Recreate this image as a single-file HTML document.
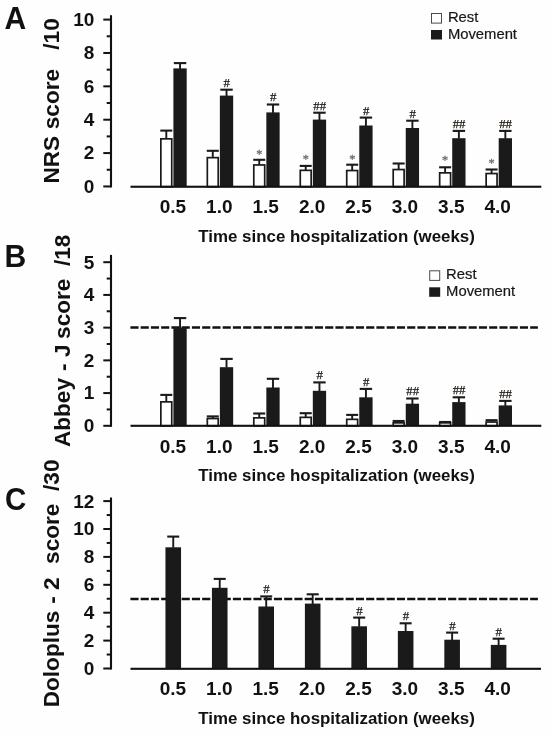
<!DOCTYPE html>
<html lang="en">
<head>
<meta charset="utf-8">
<title>Pain scores over time since hospitalization</title>
<style>
html,body{margin:0;padding:0;background:#fefefe;}
body{width:550px;height:736px;overflow:hidden;font-family:"Liberation Sans",Arial,sans-serif;}
svg{display:block;}
text{white-space:pre;}
</style>
</head>
<body>
<svg width="550" height="736" viewBox="0 0 550 736">
<rect x="0" y="0" width="550" height="736" fill="#fefefe"/>
<text transform="translate(4.50,29.30) scale(1.02,1.085)" font-family='"Liberation Sans", Arial, Helvetica, sans-serif' font-size="29.5" font-weight="bold" text-anchor="start" fill="#111">A</text>
<rect x="109.95" y="15.20" width="2.10" height="172.25" fill="#111"/>
<rect x="103.30" y="185.45" width="7.70" height="2.00" fill="#111"/>
<text transform="translate(94.40,192.85) scale(1.08,1.0)" font-family='"Liberation Sans", Arial, Helvetica, sans-serif' font-size="17.6" font-weight="bold" text-anchor="end" fill="#111">0</text>
<rect x="106.70" y="168.76" width="4.30" height="2.00" fill="#111"/>
<rect x="103.30" y="152.08" width="7.70" height="2.00" fill="#111"/>
<text transform="translate(94.40,159.48) scale(1.08,1.0)" font-family='"Liberation Sans", Arial, Helvetica, sans-serif' font-size="17.6" font-weight="bold" text-anchor="end" fill="#111">2</text>
<rect x="106.70" y="135.39" width="4.30" height="2.00" fill="#111"/>
<rect x="103.30" y="118.71" width="7.70" height="2.00" fill="#111"/>
<text transform="translate(94.40,126.11) scale(1.08,1.0)" font-family='"Liberation Sans", Arial, Helvetica, sans-serif' font-size="17.6" font-weight="bold" text-anchor="end" fill="#111">4</text>
<rect x="106.70" y="102.02" width="4.30" height="2.00" fill="#111"/>
<rect x="103.30" y="85.34" width="7.70" height="2.00" fill="#111"/>
<text transform="translate(94.40,92.74) scale(1.08,1.0)" font-family='"Liberation Sans", Arial, Helvetica, sans-serif' font-size="17.6" font-weight="bold" text-anchor="end" fill="#111">6</text>
<rect x="106.70" y="68.66" width="4.30" height="2.00" fill="#111"/>
<rect x="103.30" y="51.97" width="7.70" height="2.00" fill="#111"/>
<text transform="translate(94.40,59.37) scale(1.08,1.0)" font-family='"Liberation Sans", Arial, Helvetica, sans-serif' font-size="17.6" font-weight="bold" text-anchor="end" fill="#111">8</text>
<rect x="106.70" y="35.28" width="4.30" height="2.00" fill="#111"/>
<rect x="103.30" y="18.60" width="7.70" height="2.00" fill="#111"/>
<text transform="translate(94.40,26.00) scale(1.08,1.0)" font-family='"Liberation Sans", Arial, Helvetica, sans-serif' font-size="17.6" font-weight="bold" text-anchor="end" fill="#111">10</text>
<text transform="translate(59.40,183.56) rotate(-90)" font-family='"Liberation Sans", Arial, Helvetica, sans-serif' font-size="22.6" font-weight="bold" text-anchor="start" fill="#111">NRS</text>
<text transform="translate(59.40,129.21) rotate(-90)" font-family='"Liberation Sans", Arial, Helvetica, sans-serif' font-size="22.6" font-weight="bold" text-anchor="start" fill="#111">score</text>
<text transform="translate(59.40,49.66) rotate(-90)" font-family='"Liberation Sans", Arial, Helvetica, sans-serif' font-size="22.6" font-weight="bold" text-anchor="start" fill="#111">/10</text>
<rect x="165.35" y="130.60" width="1.90" height="7.90" fill="#1a1a1a"/>
<rect x="160.30" y="129.55" width="12.00" height="2.10" fill="#1a1a1a"/>
<rect x="160.85" y="138.85" width="10.90" height="47.90" fill="#fff" stroke="#1a1a1a" stroke-width="1.7"/>
<rect x="179.10" y="63.10" width="1.90" height="5.80" fill="#1a1a1a"/>
<rect x="173.85" y="62.05" width="12.40" height="2.10" fill="#1a1a1a"/>
<rect x="173.40" y="68.40" width="13.30" height="118.35" fill="#1a1a1a"/>
<rect x="211.82" y="150.80" width="1.90" height="6.50" fill="#1a1a1a"/>
<rect x="206.77" y="149.75" width="12.00" height="2.10" fill="#1a1a1a"/>
<rect x="207.32" y="157.65" width="10.90" height="29.10" fill="#fff" stroke="#1a1a1a" stroke-width="1.7"/>
<rect x="225.57" y="89.70" width="1.90" height="6.40" fill="#1a1a1a"/>
<rect x="220.32" y="88.65" width="12.40" height="2.10" fill="#1a1a1a"/>
<rect x="219.87" y="95.60" width="13.30" height="91.15" fill="#1a1a1a"/>
<rect x="258.29" y="159.80" width="1.90" height="4.80" fill="#1a1a1a"/>
<rect x="253.24" y="158.75" width="12.00" height="2.10" fill="#1a1a1a"/>
<rect x="253.79" y="164.95" width="10.90" height="21.80" fill="#fff" stroke="#1a1a1a" stroke-width="1.7"/>
<rect x="272.04" y="104.50" width="1.90" height="8.40" fill="#1a1a1a"/>
<rect x="266.79" y="103.45" width="12.40" height="2.10" fill="#1a1a1a"/>
<rect x="266.34" y="112.40" width="13.30" height="74.35" fill="#1a1a1a"/>
<rect x="304.76" y="165.90" width="1.90" height="4.10" fill="#1a1a1a"/>
<rect x="299.71" y="164.85" width="12.00" height="2.10" fill="#1a1a1a"/>
<rect x="300.26" y="170.35" width="10.90" height="16.40" fill="#fff" stroke="#1a1a1a" stroke-width="1.7"/>
<rect x="318.51" y="112.70" width="1.90" height="7.40" fill="#1a1a1a"/>
<rect x="313.26" y="111.65" width="12.40" height="2.10" fill="#1a1a1a"/>
<rect x="312.81" y="119.60" width="13.30" height="67.15" fill="#1a1a1a"/>
<rect x="351.23" y="164.70" width="1.90" height="5.50" fill="#1a1a1a"/>
<rect x="346.18" y="163.65" width="12.00" height="2.10" fill="#1a1a1a"/>
<rect x="346.73" y="170.55" width="10.90" height="16.20" fill="#fff" stroke="#1a1a1a" stroke-width="1.7"/>
<rect x="364.98" y="117.60" width="1.90" height="8.40" fill="#1a1a1a"/>
<rect x="359.73" y="116.55" width="12.40" height="2.10" fill="#1a1a1a"/>
<rect x="359.28" y="125.50" width="13.30" height="61.25" fill="#1a1a1a"/>
<rect x="397.70" y="163.50" width="1.90" height="5.70" fill="#1a1a1a"/>
<rect x="392.65" y="162.45" width="12.00" height="2.10" fill="#1a1a1a"/>
<rect x="393.20" y="169.55" width="10.90" height="17.20" fill="#fff" stroke="#1a1a1a" stroke-width="1.7"/>
<rect x="411.45" y="120.70" width="1.90" height="7.80" fill="#1a1a1a"/>
<rect x="406.20" y="119.65" width="12.40" height="2.10" fill="#1a1a1a"/>
<rect x="405.75" y="128.00" width="13.30" height="58.75" fill="#1a1a1a"/>
<rect x="444.17" y="167.30" width="1.90" height="5.20" fill="#1a1a1a"/>
<rect x="439.12" y="166.25" width="12.00" height="2.10" fill="#1a1a1a"/>
<rect x="439.67" y="172.85" width="10.90" height="13.90" fill="#fff" stroke="#1a1a1a" stroke-width="1.7"/>
<rect x="457.92" y="130.90" width="1.90" height="7.80" fill="#1a1a1a"/>
<rect x="452.67" y="129.85" width="12.40" height="2.10" fill="#1a1a1a"/>
<rect x="452.22" y="138.20" width="13.30" height="48.55" fill="#1a1a1a"/>
<rect x="490.64" y="169.50" width="1.90" height="3.70" fill="#1a1a1a"/>
<rect x="485.59" y="168.45" width="12.00" height="2.10" fill="#1a1a1a"/>
<rect x="486.14" y="173.55" width="10.90" height="13.20" fill="#fff" stroke="#1a1a1a" stroke-width="1.7"/>
<rect x="504.39" y="130.90" width="1.90" height="7.80" fill="#1a1a1a"/>
<rect x="499.14" y="129.85" width="12.40" height="2.10" fill="#1a1a1a"/>
<rect x="498.69" y="138.20" width="13.30" height="48.55" fill="#1a1a1a"/>
<rect x="130.50" y="185.70" width="410.80" height="2.10" fill="#111"/>
<text transform="translate(172.90,213.35) scale(1.08,1.0)" font-family='"Liberation Sans", Arial, Helvetica, sans-serif' font-size="17.6" font-weight="bold" text-anchor="middle" fill="#111">0.5</text>
<text transform="translate(219.30,213.35) scale(1.08,1.0)" font-family='"Liberation Sans", Arial, Helvetica, sans-serif' font-size="17.6" font-weight="bold" text-anchor="middle" fill="#111">1.0</text>
<text transform="translate(265.70,213.35) scale(1.08,1.0)" font-family='"Liberation Sans", Arial, Helvetica, sans-serif' font-size="17.6" font-weight="bold" text-anchor="middle" fill="#111">1.5</text>
<text transform="translate(312.10,213.35) scale(1.08,1.0)" font-family='"Liberation Sans", Arial, Helvetica, sans-serif' font-size="17.6" font-weight="bold" text-anchor="middle" fill="#111">2.0</text>
<text transform="translate(358.50,213.35) scale(1.08,1.0)" font-family='"Liberation Sans", Arial, Helvetica, sans-serif' font-size="17.6" font-weight="bold" text-anchor="middle" fill="#111">2.5</text>
<text transform="translate(404.90,213.35) scale(1.08,1.0)" font-family='"Liberation Sans", Arial, Helvetica, sans-serif' font-size="17.6" font-weight="bold" text-anchor="middle" fill="#111">3.0</text>
<text transform="translate(451.30,213.35) scale(1.08,1.0)" font-family='"Liberation Sans", Arial, Helvetica, sans-serif' font-size="17.6" font-weight="bold" text-anchor="middle" fill="#111">3.5</text>
<text transform="translate(497.70,213.35) scale(1.08,1.0)" font-family='"Liberation Sans", Arial, Helvetica, sans-serif' font-size="17.6" font-weight="bold" text-anchor="middle" fill="#111">4.0</text>
<text x="336.60" y="241.95" font-family='"Liberation Sans", Arial, Helvetica, sans-serif' font-size="16.9" font-weight="bold" text-anchor="middle" fill="#111">Time since hospitalization (weeks)</text>
<rect x="431.50" y="13.50" width="10" height="9.6" fill="#fff" stroke="#4a4a4a" stroke-width="1"/>
<rect x="431.00" y="30.00" width="11.00" height="9.50" fill="#1a1a1a"/>
<text x="447.90" y="22.10" font-family='"Liberation Sans", Arial, Helvetica, sans-serif' font-size="14.8" font-weight="normal" text-anchor="start" fill="#161616" stroke="#161616" stroke-width="0.2">Rest</text>
<text x="447.90" y="39.10" font-family='"Liberation Sans", Arial, Helvetica, sans-serif' font-size="14.8" font-weight="normal" text-anchor="start" fill="#161616" stroke="#161616" stroke-width="0.2">Movement</text>
<text x="226.77" y="86.60" font-family='"Liberation Serif", "Times New Roman", serif' font-size="12.8" font-weight="normal" text-anchor="middle" fill="#1e1812" stroke="#1e1812" stroke-width="0.25">#</text>
<text x="273.24" y="101.40" font-family='"Liberation Serif", "Times New Roman", serif' font-size="12.8" font-weight="normal" text-anchor="middle" fill="#1e1812" stroke="#1e1812" stroke-width="0.25">#</text>
<text x="319.71" y="109.60" font-family='"Liberation Serif", "Times New Roman", serif' font-size="12.8" font-weight="normal" text-anchor="middle" fill="#1e1812" stroke="#1e1812" stroke-width="0.25">##</text>
<text x="366.18" y="114.50" font-family='"Liberation Serif", "Times New Roman", serif' font-size="12.8" font-weight="normal" text-anchor="middle" fill="#1e1812" stroke="#1e1812" stroke-width="0.25">#</text>
<text x="412.65" y="117.60" font-family='"Liberation Serif", "Times New Roman", serif' font-size="12.8" font-weight="normal" text-anchor="middle" fill="#1e1812" stroke="#1e1812" stroke-width="0.25">#</text>
<text x="459.12" y="127.80" font-family='"Liberation Serif", "Times New Roman", serif' font-size="12.8" font-weight="normal" text-anchor="middle" fill="#1e1812" stroke="#1e1812" stroke-width="0.25">##</text>
<text x="505.59" y="127.80" font-family='"Liberation Serif", "Times New Roman", serif' font-size="12.8" font-weight="normal" text-anchor="middle" fill="#1e1812" stroke="#1e1812" stroke-width="0.25">##</text>
<text x="259.24" y="158.20" font-family='"Liberation Serif", "Times New Roman", serif' font-size="12.2" font-weight="normal" text-anchor="middle" fill="#756c64" stroke="#756c64" stroke-width="0.35">*</text>
<text x="305.71" y="162.90" font-family='"Liberation Serif", "Times New Roman", serif' font-size="12.2" font-weight="normal" text-anchor="middle" fill="#756c64" stroke="#756c64" stroke-width="0.35">*</text>
<text x="352.18" y="162.90" font-family='"Liberation Serif", "Times New Roman", serif' font-size="12.2" font-weight="normal" text-anchor="middle" fill="#756c64" stroke="#756c64" stroke-width="0.35">*</text>
<text x="445.12" y="164.40" font-family='"Liberation Serif", "Times New Roman", serif' font-size="12.2" font-weight="normal" text-anchor="middle" fill="#756c64" stroke="#756c64" stroke-width="0.35">*</text>
<text x="491.59" y="167.20" font-family='"Liberation Serif", "Times New Roman", serif' font-size="12.2" font-weight="normal" text-anchor="middle" fill="#756c64" stroke="#756c64" stroke-width="0.35">*</text>
<text transform="translate(4.50,267.40) scale(1.02,1.085)" font-family='"Liberation Sans", Arial, Helvetica, sans-serif' font-size="29.5" font-weight="bold" text-anchor="start" fill="#111">B</text>
<rect x="109.95" y="254.90" width="2.10" height="171.90" fill="#111"/>
<rect x="103.30" y="424.80" width="7.70" height="2.00" fill="#111"/>
<text transform="translate(94.40,432.20) scale(1.08,1.0)" font-family='"Liberation Sans", Arial, Helvetica, sans-serif' font-size="17.6" font-weight="bold" text-anchor="end" fill="#111">0</text>
<rect x="106.70" y="408.44" width="4.30" height="2.00" fill="#111"/>
<rect x="103.30" y="392.08" width="7.70" height="2.00" fill="#111"/>
<text transform="translate(94.40,399.48) scale(1.08,1.0)" font-family='"Liberation Sans", Arial, Helvetica, sans-serif' font-size="17.6" font-weight="bold" text-anchor="end" fill="#111">1</text>
<rect x="106.70" y="375.72" width="4.30" height="2.00" fill="#111"/>
<rect x="103.30" y="359.36" width="7.70" height="2.00" fill="#111"/>
<text transform="translate(94.40,366.76) scale(1.08,1.0)" font-family='"Liberation Sans", Arial, Helvetica, sans-serif' font-size="17.6" font-weight="bold" text-anchor="end" fill="#111">2</text>
<rect x="106.70" y="343.00" width="4.30" height="2.00" fill="#111"/>
<rect x="103.30" y="326.64" width="7.70" height="2.00" fill="#111"/>
<text transform="translate(94.40,334.04) scale(1.08,1.0)" font-family='"Liberation Sans", Arial, Helvetica, sans-serif' font-size="17.6" font-weight="bold" text-anchor="end" fill="#111">3</text>
<rect x="106.70" y="310.28" width="4.30" height="2.00" fill="#111"/>
<rect x="103.30" y="293.92" width="7.70" height="2.00" fill="#111"/>
<text transform="translate(94.40,301.32) scale(1.08,1.0)" font-family='"Liberation Sans", Arial, Helvetica, sans-serif' font-size="17.6" font-weight="bold" text-anchor="end" fill="#111">4</text>
<rect x="106.70" y="277.56" width="4.30" height="2.00" fill="#111"/>
<rect x="103.30" y="261.20" width="7.70" height="2.00" fill="#111"/>
<text transform="translate(94.40,268.60) scale(1.08,1.0)" font-family='"Liberation Sans", Arial, Helvetica, sans-serif' font-size="17.6" font-weight="bold" text-anchor="end" fill="#111">5</text>
<text transform="translate(70.00,447.05) rotate(-90)" font-family='"Liberation Sans", Arial, Helvetica, sans-serif' font-size="22.6" font-weight="bold" text-anchor="start" fill="#111">Abbey</text>
<text transform="translate(70.00,370.95) rotate(-90)" font-family='"Liberation Sans", Arial, Helvetica, sans-serif' font-size="22.6" font-weight="bold" text-anchor="start" fill="#111">-</text>
<text transform="translate(70.00,356.98) rotate(-90)" font-family='"Liberation Sans", Arial, Helvetica, sans-serif' font-size="22.6" font-weight="bold" text-anchor="start" fill="#111">J</text>
<text transform="translate(70.00,338.91) rotate(-90)" font-family='"Liberation Sans", Arial, Helvetica, sans-serif' font-size="22.6" font-weight="bold" text-anchor="start" fill="#111">score</text>
<text transform="translate(70.00,265.97) rotate(-90)" font-family='"Liberation Sans", Arial, Helvetica, sans-serif' font-size="22.6" font-weight="bold" text-anchor="start" fill="#111">/18</text>
<line x1="130.4" y1="327.5" x2="537.9" y2="327.5" stroke="#111" stroke-width="2.5" stroke-dasharray="8.15 2.1"/>
<rect x="165.35" y="394.90" width="1.90" height="6.60" fill="#1a1a1a"/>
<rect x="160.30" y="393.85" width="12.00" height="2.10" fill="#1a1a1a"/>
<rect x="160.85" y="401.85" width="10.90" height="23.95" fill="#fff" stroke="#1a1a1a" stroke-width="1.7"/>
<rect x="179.10" y="318.10" width="1.90" height="9.90" fill="#1a1a1a"/>
<rect x="173.85" y="317.05" width="12.40" height="2.10" fill="#1a1a1a"/>
<rect x="173.40" y="327.50" width="13.30" height="98.30" fill="#1a1a1a"/>
<rect x="211.82" y="416.40" width="1.90" height="1.80" fill="#1a1a1a"/>
<rect x="206.77" y="415.35" width="12.00" height="2.10" fill="#1a1a1a"/>
<rect x="207.32" y="418.55" width="10.90" height="7.25" fill="#fff" stroke="#1a1a1a" stroke-width="1.7"/>
<rect x="225.57" y="358.90" width="1.90" height="8.80" fill="#1a1a1a"/>
<rect x="220.32" y="357.85" width="12.40" height="2.10" fill="#1a1a1a"/>
<rect x="219.87" y="367.20" width="13.30" height="58.60" fill="#1a1a1a"/>
<rect x="258.29" y="413.50" width="1.90" height="4.00" fill="#1a1a1a"/>
<rect x="253.24" y="412.45" width="12.00" height="2.10" fill="#1a1a1a"/>
<rect x="253.79" y="417.85" width="10.90" height="7.95" fill="#fff" stroke="#1a1a1a" stroke-width="1.7"/>
<rect x="272.04" y="378.80" width="1.90" height="9.20" fill="#1a1a1a"/>
<rect x="266.79" y="377.75" width="12.40" height="2.10" fill="#1a1a1a"/>
<rect x="266.34" y="387.50" width="13.30" height="38.30" fill="#1a1a1a"/>
<rect x="304.76" y="413.20" width="1.90" height="3.80" fill="#1a1a1a"/>
<rect x="299.71" y="412.15" width="12.00" height="2.10" fill="#1a1a1a"/>
<rect x="300.26" y="417.35" width="10.90" height="8.45" fill="#fff" stroke="#1a1a1a" stroke-width="1.7"/>
<rect x="318.51" y="382.40" width="1.90" height="8.90" fill="#1a1a1a"/>
<rect x="313.26" y="381.35" width="12.40" height="2.10" fill="#1a1a1a"/>
<rect x="312.81" y="390.80" width="13.30" height="35.00" fill="#1a1a1a"/>
<rect x="351.23" y="414.90" width="1.90" height="4.10" fill="#1a1a1a"/>
<rect x="346.18" y="413.85" width="12.00" height="2.10" fill="#1a1a1a"/>
<rect x="346.73" y="419.35" width="10.90" height="6.45" fill="#fff" stroke="#1a1a1a" stroke-width="1.7"/>
<rect x="364.98" y="388.90" width="1.90" height="8.90" fill="#1a1a1a"/>
<rect x="359.73" y="387.85" width="12.40" height="2.10" fill="#1a1a1a"/>
<rect x="359.28" y="397.30" width="13.30" height="28.50" fill="#1a1a1a"/>
<rect x="397.70" y="421.00" width="1.90" height="1.50" fill="#1a1a1a"/>
<rect x="392.65" y="419.95" width="12.00" height="2.10" fill="#1a1a1a"/>
<rect x="393.20" y="422.85" width="10.90" height="2.95" fill="#fff" stroke="#1a1a1a" stroke-width="1.7"/>
<rect x="411.45" y="398.50" width="1.90" height="5.70" fill="#1a1a1a"/>
<rect x="406.20" y="397.45" width="12.40" height="2.10" fill="#1a1a1a"/>
<rect x="405.75" y="403.70" width="13.30" height="22.10" fill="#1a1a1a"/>
<rect x="444.17" y="422.00" width="1.90" height="0.50" fill="#1a1a1a"/>
<rect x="439.12" y="420.95" width="12.00" height="2.10" fill="#1a1a1a"/>
<rect x="439.67" y="422.85" width="10.90" height="2.95" fill="#fff" stroke="#1a1a1a" stroke-width="1.7"/>
<rect x="457.92" y="397.30" width="1.90" height="5.30" fill="#1a1a1a"/>
<rect x="452.67" y="396.25" width="12.40" height="2.10" fill="#1a1a1a"/>
<rect x="452.22" y="402.10" width="13.30" height="23.70" fill="#1a1a1a"/>
<rect x="490.64" y="420.20" width="1.90" height="1.50" fill="#1a1a1a"/>
<rect x="485.59" y="419.15" width="12.00" height="2.10" fill="#1a1a1a"/>
<rect x="486.14" y="422.05" width="10.90" height="3.75" fill="#fff" stroke="#1a1a1a" stroke-width="1.7"/>
<rect x="504.39" y="400.90" width="1.90" height="5.00" fill="#1a1a1a"/>
<rect x="499.14" y="399.85" width="12.40" height="2.10" fill="#1a1a1a"/>
<rect x="498.69" y="405.40" width="13.30" height="20.40" fill="#1a1a1a"/>
<rect x="130.50" y="424.75" width="410.80" height="2.10" fill="#111"/>
<text transform="translate(172.90,452.50) scale(1.08,1.0)" font-family='"Liberation Sans", Arial, Helvetica, sans-serif' font-size="17.6" font-weight="bold" text-anchor="middle" fill="#111">0.5</text>
<text transform="translate(219.30,452.50) scale(1.08,1.0)" font-family='"Liberation Sans", Arial, Helvetica, sans-serif' font-size="17.6" font-weight="bold" text-anchor="middle" fill="#111">1.0</text>
<text transform="translate(265.70,452.50) scale(1.08,1.0)" font-family='"Liberation Sans", Arial, Helvetica, sans-serif' font-size="17.6" font-weight="bold" text-anchor="middle" fill="#111">1.5</text>
<text transform="translate(312.10,452.50) scale(1.08,1.0)" font-family='"Liberation Sans", Arial, Helvetica, sans-serif' font-size="17.6" font-weight="bold" text-anchor="middle" fill="#111">2.0</text>
<text transform="translate(358.50,452.50) scale(1.08,1.0)" font-family='"Liberation Sans", Arial, Helvetica, sans-serif' font-size="17.6" font-weight="bold" text-anchor="middle" fill="#111">2.5</text>
<text transform="translate(404.90,452.50) scale(1.08,1.0)" font-family='"Liberation Sans", Arial, Helvetica, sans-serif' font-size="17.6" font-weight="bold" text-anchor="middle" fill="#111">3.0</text>
<text transform="translate(451.30,452.50) scale(1.08,1.0)" font-family='"Liberation Sans", Arial, Helvetica, sans-serif' font-size="17.6" font-weight="bold" text-anchor="middle" fill="#111">3.5</text>
<text transform="translate(497.70,452.50) scale(1.08,1.0)" font-family='"Liberation Sans", Arial, Helvetica, sans-serif' font-size="17.6" font-weight="bold" text-anchor="middle" fill="#111">4.0</text>
<text x="336.60" y="481.10" font-family='"Liberation Sans", Arial, Helvetica, sans-serif' font-size="16.9" font-weight="bold" text-anchor="middle" fill="#111">Time since hospitalization (weeks)</text>
<rect x="429.70" y="270.80" width="10" height="9.6" fill="#fff" stroke="#4a4a4a" stroke-width="1"/>
<rect x="429.20" y="287.30" width="11.00" height="9.50" fill="#1a1a1a"/>
<text x="446.10" y="279.40" font-family='"Liberation Sans", Arial, Helvetica, sans-serif' font-size="14.8" font-weight="normal" text-anchor="start" fill="#161616" stroke="#161616" stroke-width="0.2">Rest</text>
<text x="446.10" y="296.40" font-family='"Liberation Sans", Arial, Helvetica, sans-serif' font-size="14.8" font-weight="normal" text-anchor="start" fill="#161616" stroke="#161616" stroke-width="0.2">Movement</text>
<text x="319.71" y="379.30" font-family='"Liberation Serif", "Times New Roman", serif' font-size="12.8" font-weight="normal" text-anchor="middle" fill="#1e1812" stroke="#1e1812" stroke-width="0.25">#</text>
<text x="366.18" y="385.80" font-family='"Liberation Serif", "Times New Roman", serif' font-size="12.8" font-weight="normal" text-anchor="middle" fill="#1e1812" stroke="#1e1812" stroke-width="0.25">#</text>
<text x="412.65" y="395.40" font-family='"Liberation Serif", "Times New Roman", serif' font-size="12.8" font-weight="normal" text-anchor="middle" fill="#1e1812" stroke="#1e1812" stroke-width="0.25">##</text>
<text x="459.12" y="394.20" font-family='"Liberation Serif", "Times New Roman", serif' font-size="12.8" font-weight="normal" text-anchor="middle" fill="#1e1812" stroke="#1e1812" stroke-width="0.25">##</text>
<text x="505.59" y="397.80" font-family='"Liberation Serif", "Times New Roman", serif' font-size="12.8" font-weight="normal" text-anchor="middle" fill="#1e1812" stroke="#1e1812" stroke-width="0.25">##</text>
<text transform="translate(4.90,509.90) scale(1.0,1.085)" font-family='"Liberation Sans", Arial, Helvetica, sans-serif' font-size="29.5" font-weight="bold" text-anchor="start" fill="#111">C</text>
<rect x="109.95" y="497.50" width="2.10" height="172.00" fill="#111"/>
<rect x="103.30" y="667.50" width="7.70" height="2.00" fill="#111"/>
<text transform="translate(94.40,674.90) scale(1.08,1.0)" font-family='"Liberation Sans", Arial, Helvetica, sans-serif' font-size="17.6" font-weight="bold" text-anchor="end" fill="#111">0</text>
<rect x="106.70" y="653.55" width="4.30" height="2.00" fill="#111"/>
<rect x="103.30" y="639.60" width="7.70" height="2.00" fill="#111"/>
<text transform="translate(94.40,647.00) scale(1.08,1.0)" font-family='"Liberation Sans", Arial, Helvetica, sans-serif' font-size="17.6" font-weight="bold" text-anchor="end" fill="#111">2</text>
<rect x="106.70" y="625.65" width="4.30" height="2.00" fill="#111"/>
<rect x="103.30" y="611.70" width="7.70" height="2.00" fill="#111"/>
<text transform="translate(94.40,619.10) scale(1.08,1.0)" font-family='"Liberation Sans", Arial, Helvetica, sans-serif' font-size="17.6" font-weight="bold" text-anchor="end" fill="#111">4</text>
<rect x="106.70" y="597.75" width="4.30" height="2.00" fill="#111"/>
<rect x="103.30" y="583.80" width="7.70" height="2.00" fill="#111"/>
<text transform="translate(94.40,591.20) scale(1.08,1.0)" font-family='"Liberation Sans", Arial, Helvetica, sans-serif' font-size="17.6" font-weight="bold" text-anchor="end" fill="#111">6</text>
<rect x="106.70" y="569.85" width="4.30" height="2.00" fill="#111"/>
<rect x="103.30" y="555.90" width="7.70" height="2.00" fill="#111"/>
<text transform="translate(94.40,563.30) scale(1.08,1.0)" font-family='"Liberation Sans", Arial, Helvetica, sans-serif' font-size="17.6" font-weight="bold" text-anchor="end" fill="#111">8</text>
<rect x="106.70" y="541.95" width="4.30" height="2.00" fill="#111"/>
<rect x="103.30" y="528.00" width="7.70" height="2.00" fill="#111"/>
<text transform="translate(94.40,535.40) scale(1.08,1.0)" font-family='"Liberation Sans", Arial, Helvetica, sans-serif' font-size="17.6" font-weight="bold" text-anchor="end" fill="#111">10</text>
<rect x="106.70" y="514.05" width="4.30" height="2.00" fill="#111"/>
<rect x="103.30" y="500.10" width="7.70" height="2.00" fill="#111"/>
<text transform="translate(94.40,507.50) scale(1.08,1.0)" font-family='"Liberation Sans", Arial, Helvetica, sans-serif' font-size="17.6" font-weight="bold" text-anchor="end" fill="#111">12</text>
<text transform="translate(59.40,707.32) rotate(-90)" font-family='"Liberation Sans", Arial, Helvetica, sans-serif' font-size="22.6" font-weight="bold" text-anchor="start" fill="#111">Doloplus</text>
<text transform="translate(59.40,603.70) rotate(-90)" font-family='"Liberation Sans", Arial, Helvetica, sans-serif' font-size="22.6" font-weight="bold" text-anchor="start" fill="#111">-</text>
<text transform="translate(59.40,590.03) rotate(-90)" font-family='"Liberation Sans", Arial, Helvetica, sans-serif' font-size="22.6" font-weight="bold" text-anchor="start" fill="#111">2</text>
<text transform="translate(59.40,563.91) rotate(-90)" font-family='"Liberation Sans", Arial, Helvetica, sans-serif' font-size="22.6" font-weight="bold" text-anchor="start" fill="#111">score</text>
<text transform="translate(59.40,490.96) rotate(-90)" font-family='"Liberation Sans", Arial, Helvetica, sans-serif' font-size="22.6" font-weight="bold" text-anchor="start" fill="#111">/30</text>
<line x1="130.4" y1="599.1" x2="537.9" y2="599.1" stroke="#111" stroke-width="2.5" stroke-dasharray="8.15 2.1"/>
<rect x="172.30" y="536.60" width="1.90" height="11.20" fill="#1a1a1a"/>
<rect x="167.25" y="535.55" width="12.00" height="2.10" fill="#1a1a1a"/>
<rect x="165.45" y="547.30" width="15.60" height="121.50" fill="#1a1a1a"/>
<rect x="218.78" y="578.90" width="1.90" height="9.40" fill="#1a1a1a"/>
<rect x="213.73" y="577.85" width="12.00" height="2.10" fill="#1a1a1a"/>
<rect x="211.93" y="587.80" width="15.60" height="81.00" fill="#1a1a1a"/>
<rect x="265.26" y="596.40" width="1.90" height="10.60" fill="#1a1a1a"/>
<rect x="260.21" y="595.35" width="12.00" height="2.10" fill="#1a1a1a"/>
<rect x="258.41" y="606.50" width="15.60" height="62.30" fill="#1a1a1a"/>
<rect x="311.74" y="594.30" width="1.90" height="9.80" fill="#1a1a1a"/>
<rect x="306.69" y="593.25" width="12.00" height="2.10" fill="#1a1a1a"/>
<rect x="304.89" y="603.60" width="15.60" height="65.20" fill="#1a1a1a"/>
<rect x="358.22" y="617.60" width="1.90" height="9.20" fill="#1a1a1a"/>
<rect x="353.17" y="616.55" width="12.00" height="2.10" fill="#1a1a1a"/>
<rect x="351.37" y="626.30" width="15.60" height="42.50" fill="#1a1a1a"/>
<rect x="404.70" y="623.30" width="1.90" height="8.20" fill="#1a1a1a"/>
<rect x="399.65" y="622.25" width="12.00" height="2.10" fill="#1a1a1a"/>
<rect x="397.85" y="631.00" width="15.60" height="37.80" fill="#1a1a1a"/>
<rect x="451.18" y="632.60" width="1.90" height="7.60" fill="#1a1a1a"/>
<rect x="446.13" y="631.55" width="12.00" height="2.10" fill="#1a1a1a"/>
<rect x="444.33" y="639.70" width="15.60" height="29.10" fill="#1a1a1a"/>
<rect x="497.66" y="638.70" width="1.90" height="6.70" fill="#1a1a1a"/>
<rect x="492.61" y="637.65" width="12.00" height="2.10" fill="#1a1a1a"/>
<rect x="490.81" y="644.90" width="15.60" height="23.90" fill="#1a1a1a"/>
<rect x="130.50" y="667.75" width="410.50" height="2.10" fill="#111"/>
<text transform="translate(172.90,695.40) scale(1.08,1.0)" font-family='"Liberation Sans", Arial, Helvetica, sans-serif' font-size="17.6" font-weight="bold" text-anchor="middle" fill="#111">0.5</text>
<text transform="translate(219.30,695.40) scale(1.08,1.0)" font-family='"Liberation Sans", Arial, Helvetica, sans-serif' font-size="17.6" font-weight="bold" text-anchor="middle" fill="#111">1.0</text>
<text transform="translate(265.70,695.40) scale(1.08,1.0)" font-family='"Liberation Sans", Arial, Helvetica, sans-serif' font-size="17.6" font-weight="bold" text-anchor="middle" fill="#111">1.5</text>
<text transform="translate(312.10,695.40) scale(1.08,1.0)" font-family='"Liberation Sans", Arial, Helvetica, sans-serif' font-size="17.6" font-weight="bold" text-anchor="middle" fill="#111">2.0</text>
<text transform="translate(358.50,695.40) scale(1.08,1.0)" font-family='"Liberation Sans", Arial, Helvetica, sans-serif' font-size="17.6" font-weight="bold" text-anchor="middle" fill="#111">2.5</text>
<text transform="translate(404.90,695.40) scale(1.08,1.0)" font-family='"Liberation Sans", Arial, Helvetica, sans-serif' font-size="17.6" font-weight="bold" text-anchor="middle" fill="#111">3.0</text>
<text transform="translate(451.30,695.40) scale(1.08,1.0)" font-family='"Liberation Sans", Arial, Helvetica, sans-serif' font-size="17.6" font-weight="bold" text-anchor="middle" fill="#111">3.5</text>
<text transform="translate(497.70,695.40) scale(1.08,1.0)" font-family='"Liberation Sans", Arial, Helvetica, sans-serif' font-size="17.6" font-weight="bold" text-anchor="middle" fill="#111">4.0</text>
<text x="336.60" y="724.00" font-family='"Liberation Sans", Arial, Helvetica, sans-serif' font-size="16.9" font-weight="bold" text-anchor="middle" fill="#111">Time since hospitalization (weeks)</text>
<text x="266.41" y="593.30" font-family='"Liberation Serif", "Times New Roman", serif' font-size="12.8" font-weight="normal" text-anchor="middle" fill="#1e1812" stroke="#1e1812" stroke-width="0.25">#</text>
<text x="359.37" y="614.50" font-family='"Liberation Serif", "Times New Roman", serif' font-size="12.8" font-weight="normal" text-anchor="middle" fill="#1e1812" stroke="#1e1812" stroke-width="0.25">#</text>
<text x="405.85" y="620.20" font-family='"Liberation Serif", "Times New Roman", serif' font-size="12.8" font-weight="normal" text-anchor="middle" fill="#1e1812" stroke="#1e1812" stroke-width="0.25">#</text>
<text x="452.33" y="629.50" font-family='"Liberation Serif", "Times New Roman", serif' font-size="12.8" font-weight="normal" text-anchor="middle" fill="#1e1812" stroke="#1e1812" stroke-width="0.25">#</text>
<text x="498.81" y="635.60" font-family='"Liberation Serif", "Times New Roman", serif' font-size="12.8" font-weight="normal" text-anchor="middle" fill="#1e1812" stroke="#1e1812" stroke-width="0.25">#</text>
</svg>
</body>
</html>
